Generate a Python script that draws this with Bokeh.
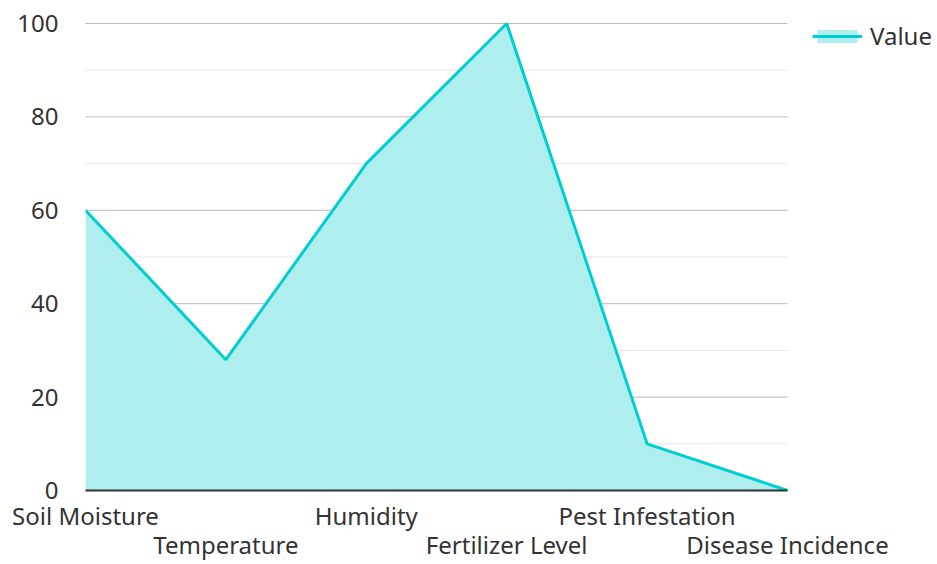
from bokeh.plotting import figure
from bokeh.models import FixedTicker, Legend, LegendItem, ColumnDataSource, LinearAxis
from bokeh.embed import file_html
from bokeh.resources import INLINE

categories = ["Soil Moisture", "Temperature", "Humidity", "Fertilizer Level", "Pest Infestation", "Disease Incidence"]
values = [60, 28, 70, 100, 10, 0]
y_ticks = [0, 20, 40, 60, 80, 100]
grid_values = [0, 10, 20, 30, 40, 50, 60, 70, 80, 90, 100]

n = len(categories)
xs = list(range(n))
src = ColumnDataSource(dict(x=xs, y=values, y0=[0] * n))

# layout (pixels): data area 702x467 px; frame extended right (legend) and up (legend text room)
DATA_W, DATA_H = 702, 467
FRAME_W, FRAME_H = 852, 480
x_end = (n - 1) * FRAME_W / DATA_W
y_end = 100 * FRAME_H / DATA_H

FONT = "Noto Sans"
FS = "24px"
TXT = "#333333"
p = figure(width=937, height=564, output_backend="svg", toolbar_location=None,
           x_range=(0, x_end), y_range=(0, y_end), x_axis_location=None,
           min_border_left=85, min_border_top=10, min_border_bottom=74, min_border_right=0)
p.outline_line_color = None

# manual grid limited to the data extent
gsrc = ColumnDataSource(dict(
    x0=[0] * len(grid_values), x1=[n - 1] * len(grid_values), y=grid_values,
    color=["#bbbbbb" if v in y_ticks else "#e6e6e6" for v in grid_values]))
p.segment(x0="x0", y0="y", x1="x1", y1="y", source=gsrc, line_color="color", line_width=1)

area = p.varea(x="x", y1="y0", y2="y", source=src, fill_color="#AFEEEE", fill_alpha=1)
line = p.line(x="x", y="y", source=src, line_color="#00CED1", line_width=3)

# two stacked x axes to stagger category labels
for k, standoff in ((0, 8), (1, -7)):
    ax = LinearAxis(ticker=FixedTicker(ticks=xs), bounds=(0, n - 1))
    ax.major_label_overrides = {i: (c if i % 2 == k else "") for i, c in enumerate(categories)}
    if k == 0:
        ax.axis_line_color = "#333333"
        ax.axis_line_width = 2
    else:
        ax.axis_line_color = None
    ax.major_tick_line_color = None
    ax.minor_tick_line_color = None
    ax.major_tick_out = 0
    ax.major_tick_in = 0
    ax.major_label_text_font = FONT
    ax.major_label_text_font_size = FS
    ax.major_label_text_color = TXT
    ax.major_label_standoff = standoff
    p.add_layout(ax, "below")

p.yaxis.ticker = FixedTicker(ticks=y_ticks)
p.yaxis.axis_line_color = None
p.yaxis.major_tick_line_color = None
p.yaxis.minor_tick_line_color = None
p.yaxis.major_label_text_font = FONT
p.yaxis.major_label_text_font_size = FS
p.yaxis.major_label_text_color = TXT
p.yaxis.major_label_standoff = 21

p.xgrid.grid_line_color = None
p.ygrid.grid_line_color = None

legend = Legend(items=[LegendItem(label="Value", renderers=[area, line])],
                location=(727, 438), border_line_color=None, background_fill_alpha=0,
                label_text_font=FONT, label_text_font_size=FS, label_text_color=TXT,
                glyph_width=50, glyph_height=16, margin=0, padding=0, spacing=0,
                label_standoff=8)
p.add_layout(legend, "center")

open("out.html", "w").write(file_html(p, INLINE))
